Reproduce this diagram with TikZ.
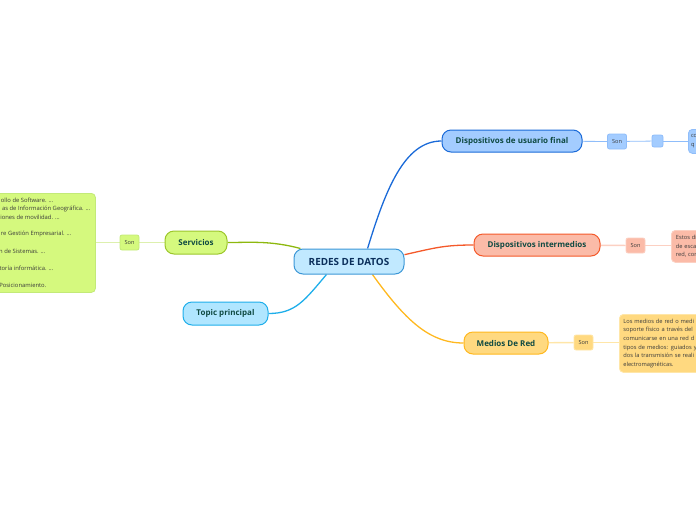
\documentclass[tikz,border=0pt]{standalone}
\usepackage{fontspec}
\setmainfont{Open Sans}
\usetikzlibrary{backgrounds}
\definecolor{inkA}{HTML}{0B2F5B}
\definecolor{inkB}{HTML}{0F4A42}
\definecolor{inkC}{HTML}{3A3A3A}
\definecolor{cenF}{HTML}{C1E9FF}\definecolor{cenD}{HTML}{3C97D6}
\definecolor{bluF}{HTML}{A3CCFF}\definecolor{bluD}{HTML}{1A6AD8}\definecolor{bluL}{HTML}{8FBDFA}
\definecolor{redF}{HTML}{FBBBA8}\definecolor{redD}{HTML}{F4592A}\definecolor{redL}{HTML}{FCD0C2}
\definecolor{oraF}{HTML}{FFD980}\definecolor{oraD}{HTML}{FFB81F}\definecolor{oraL}{HTML}{FFE6A8}
\definecolor{greF}{HTML}{D5F97E}\definecolor{greD}{HTML}{8DB80E}\definecolor{greL}{HTML}{DDF0AE}\definecolor{greB}{HTML}{C3EA78}\definecolor{greM}{HTML}{9CC62A}
\definecolor{topF}{HTML}{B0E6FF}\definecolor{topD}{HTML}{1EAEEA}
\tikzset{
  x=1pt,y=-1pt,
  topicbox/.style={rounded corners=9pt,draw,line width=1pt,font=\bfseries\fontsize{8}{10}\selectfont,text=inkB,inner sep=0pt,anchor=center},
  sonbox/.style={rounded corners=2pt,draw,line width=.8pt,font=\fontsize{5.6}{7}\selectfont,text=inkC,inner sep=0pt,minimum width=19pt,minimum height=15pt,anchor=center},
  notebox/.style={rounded corners=4pt,draw,line width=.8pt,font=\fontsize{5.7}{8.7}\selectfont,text=inkC,inner sep=0pt,anchor=north west,align=left},
  linetext/.style={font=\fontsize{5.85}{7}\selectfont,text=inkC,inner sep=0pt,anchor=east},
  branch/.style={line width=1.3pt},
  twig/.style={line width=1.4pt},
}
\begin{document}
\begin{tikzpicture}
\useasboundingbox (0,0) rectangle (696,520);
% main topics
\node[topicbox,fill=cenF,draw=cenD,text=inkA,font=\bfseries\fontsize{9.9}{11}\selectfont,minimum width=110pt,minimum height=25pt] (central) at (349,261.5) {REDES DE DATOS};
\node[topicbox,fill=bluF,draw=bluD,minimum width=140pt,minimum height=22pt] (usuario) at (512,141) {Dispositivos de usuario final};
\node[topicbox,fill=redF,draw=redD,minimum width=126pt,minimum height=22pt] (inter) at (537,245) {Dispositivos intermedios};
\node[topicbox,fill=oraF,draw=oraD,minimum width=84pt,minimum height=22pt] (medios) at (506,343) {Medios De Red};
\node[topicbox,fill=greF,draw=greM,minimum width=62pt,minimum height=23pt] (servicios) at (196,242.5) {Servicios};
\node[topicbox,fill=topF,draw=topD,minimum width=85pt,minimum height=23pt] (topic) at (225.5,313.5) {Topic principal};
% Son boxes
\node[sonbox,fill=bluF,draw=bluL] (son1) at (617,141.5) {Son};
\node[sonbox,fill=bluF,draw=bluL,minimum width=11pt,minimum height=12pt] (empty1) at (657.5,141) {};
\node[sonbox,fill=redF,draw=redL] (son2) at (635.5,245.5) {Son};
\node[sonbox,fill=oraF,draw=oraL] (son3) at (583.5,342.5) {Son};
\node[sonbox,fill=greF,draw=greB] (son4) at (129.5,242.5) {Son};
% note boxes
\node[notebox,fill=bluF,draw=bluL,minimum width=30pt,minimum height=24pt,text width=26pt] (note1) at (688,129) {\hspace*{.6pt}co\\[.3pt]\hspace*{.6pt}q};
\node[notebox,fill=redF,draw=redL,minimum width=40pt,minimum height=32pt,text width=37pt] (note2) at (671,230) {\hspace*{3pt}Estos di\\\hspace*{3pt}de esca\\\hspace*{3pt}red, cor};
\node[notebox,fill=oraF,draw=oraL,minimum width=90pt,minimum height=58pt,text width=87pt] (note3) at (619,314) {\hspace*{2.5pt}Los medios de red o medi\\\hspace*{2.5pt}soporte físico a través del\\\hspace*{2.5pt}comunicarse en una red d\\\hspace*{2.5pt}tipos de medios: guiados y\\\hspace*{2.5pt}dos la transmisión se reali\\\hspace*{2.5pt}electromagnéticas.};
\node[notebox,fill=greF,draw=greB,minimum width=105pt,minimum height=99pt] (note4) at (-10,193) {};
\node[linetext] (l1) at (53.5,200) {ollo de Software. ...};
\node[linetext] (l2) at (90.5,209) {as de Información Geográfica. ...};
\node[linetext] (l3) at (60,217.5) {iones de movilidad. ...};
\node[linetext] (l4) at (71.5,234) {re Gestión Empresarial. ...};
\node[linetext] (l5) at (45.5,251) {n de Sistemas. ...};
\node[linetext] (l6) at (53.5,268) {toría informática. ...};
\node[linetext] (l7) at (46.5,285) {Posicionamiento.};
% connectors
\begin{scope}[on background layer]
\draw[branch,draw=bluD] (central.35) .. controls +(18,-59) and +(-37,0) .. (usuario.west);
\draw[branch,draw=redD] (central.7) .. controls +(31,-7) and +(-29,0) .. (inter.west);
\draw[branch,draw=oraD] (central.331) .. controls +(33,46) and +(-34,0) .. (medios.west);
\draw[branch,draw=greD] (central.165) .. controls +(-30,-8) and +(23,0) .. (servicios.east);
\draw[branch,draw=topD] (central.210) .. controls +(-22,26) and +(27,0) .. (topic.east);
\draw[twig,draw=bluL,line width=.8pt] (usuario) -- (son1);
\draw[twig,draw=bluL,line width=.8pt] (son1) -- (empty1);
\draw[twig,draw=bluL,line width=.8pt] (empty1) -- (note1.west |- empty1);
\draw[twig,draw=redL] (inter) -- (son2);
\draw[twig,draw=redL] (son2) -- (note2.west |- son2);
\draw[twig,draw=oraL] (medios) -- (son3);
\draw[twig,draw=oraL] (son3) -- (note3.west |- son3);
\draw[twig,draw=greL] (servicios) -- (son4);
\draw[twig,draw=greL] (son4) -- (note4.east |- son4);
\end{scope}
\end{tikzpicture}
\end{document}
